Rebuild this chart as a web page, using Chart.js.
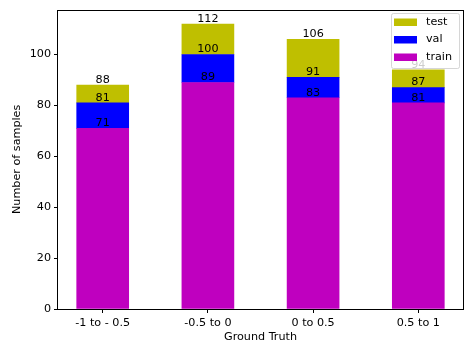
<!DOCTYPE html>
<html>
<head>
<meta charset="utf-8">
<script src="https://cdn.jsdelivr.net/npm/chart.js@4/dist/chart.umd.min.js"></script>
<style>
html,body{margin:0;padding:0;background:#fff;}
#wrap{width:474px;height:349px;position:relative;}
</style>
</head>
<body>
<div id="wrap"><canvas id="c" width="474" height="349"></canvas></div>
<script>
const categories = ['-1 to - 0.5', '-0.5 to 0', '0 to 0.5', '0.5 to 1'];
const trainValues = [71, 89, 83, 81];
const valValues = [10, 11, 8, 6];
const testValues = [7, 12, 15, 7];
const yTicks = [0, 20, 40, 60, 80, 100];

const FONT = 'DejaVu Sans';
const FS = 11.2;
const positions = categories.map((_, i) => i);

function pts(arr) { return arr.map((v, i) => ({x: positions[i], y: v})); }

const stackLabels = {
  id: 'stackLabels',
  afterDatasetsDraw(chart) {
    const ctx = chart.ctx;
    const ys = chart.scales.y, xs = chart.scales.x;
    ctx.save();
    ctx.font = FS + 'px "' + FONT + '"';
    ctx.fillStyle = '#000';
    ctx.textAlign = 'center';
    ctx.textBaseline = 'bottom';
    const cum = positions.map(() => 0);
    chart.data.datasets.forEach(ds => {
      ds.data.forEach((p, i) => {
        cum[i] += p.y;
        ctx.fillText(String(cum[i]), xs.getPixelForValue(p.x), ys.getPixelForValue(cum[i]) + 0.5);
      });
    });
    ctx.restore();
  },
  afterDraw(chart) {
    const ctx = chart.ctx;
    const a = chart.chartArea;
    ctx.save();
    ctx.strokeStyle = '#000';
    ctx.lineWidth = 1;
    ctx.strokeRect(Math.round(a.left) - 0.5, Math.round(a.top) + 0.5, Math.round(a.right - a.left) + 1, Math.round(a.bottom - a.top));
    // legend
    const lx = 391, ly = 13, lw = 68, lh = 55;
    ctx.fillStyle = 'rgba(255,255,255,0.8)';
    ctx.strokeStyle = 'rgba(204,204,204,0.8)';
    ctx.beginPath();
    if (ctx.roundRect) ctx.roundRect(lx + 0.5, ly + 0.5, lw, lh, 2); else ctx.rect(lx + 0.5, ly + 0.5, lw, lh);
    ctx.fill();
    ctx.stroke();
    const ds = chart.data.datasets.slice().reverse();
    ctx.font = FS + 'px "' + FONT + '"';
    ctx.textAlign = 'left';
    ctx.textBaseline = 'middle';
    ds.forEach((d, k) => {
      const cy = 22 + k * 17.5;
      ctx.fillStyle = d.backgroundColor;
      ctx.fillRect(394, cy - 3.5, 23, 7.5);
      ctx.fillStyle = '#000';
      ctx.fillText(d.label, 426, cy);
    });
    ctx.restore();
  }
};

new Chart(document.getElementById('c'), {
  type: 'bar',
  data: {
    datasets: [
      {label: 'train', data: pts(trainValues), backgroundColor: '#bf00bf', borderWidth: 0},
      {label: 'val', data: pts(valValues), backgroundColor: '#0000ff', borderWidth: 0},
      {label: 'test', data: pts(testValues), backgroundColor: '#bfbf00', borderWidth: 0}
    ]
  },
  options: {
    responsive: false,
    animation: false,
    layout: {padding: {left: 0, top: 8, right: 11, bottom: 0}},
    barThickness: 52,
    plugins: {legend: {display: false}, tooltip: {enabled: false}},
    scales: {
      x: {
        type: 'linear',
        stacked: true,
        min: -0.425,
        max: 3.425,
        offset: false,
        afterBuildTicks(s) { s.ticks = positions.map(v => ({value: v})); },
        afterFit(s) { s.height = 40; },
        ticks: {
          callback: (v) => categories[v] !== undefined ? categories[v] : '',
          autoSkip: false, maxRotation: 0, padding: 3,
          color: '#000', font: {family: FONT, size: FS}
        },
        grid: {display: true, offset: false, drawOnChartArea: false, drawTicks: true, tickLength: 4, color: '#000', tickWidth: 1},
        border: {display: false},
        title: {display: true, text: 'Ground Truth', color: '#000', font: {family: FONT, size: FS}, padding: {top: 0, bottom: 5.5}}
      },
      y: {
        stacked: true,
        min: 0,
        max: 117.6,
        afterBuildTicks(s) { s.ticks = yTicks.map(v => ({value: v})); },
        afterFit(s) { s.width = 58; },
        ticks: {padding: 3, color: '#000', font: {family: FONT, size: FS}},
        grid: {display: true, offset: false, drawOnChartArea: false, drawTicks: true, tickLength: 4, color: '#000', tickWidth: 1},
        border: {display: false},
        title: {display: true, text: 'Number of samples', color: '#000', font: {family: FONT, size: FS}, padding: {top: 10, bottom: 0}}
      }
    }
  },
  plugins: [stackLabels]
});
</script>
</body>
</html>
